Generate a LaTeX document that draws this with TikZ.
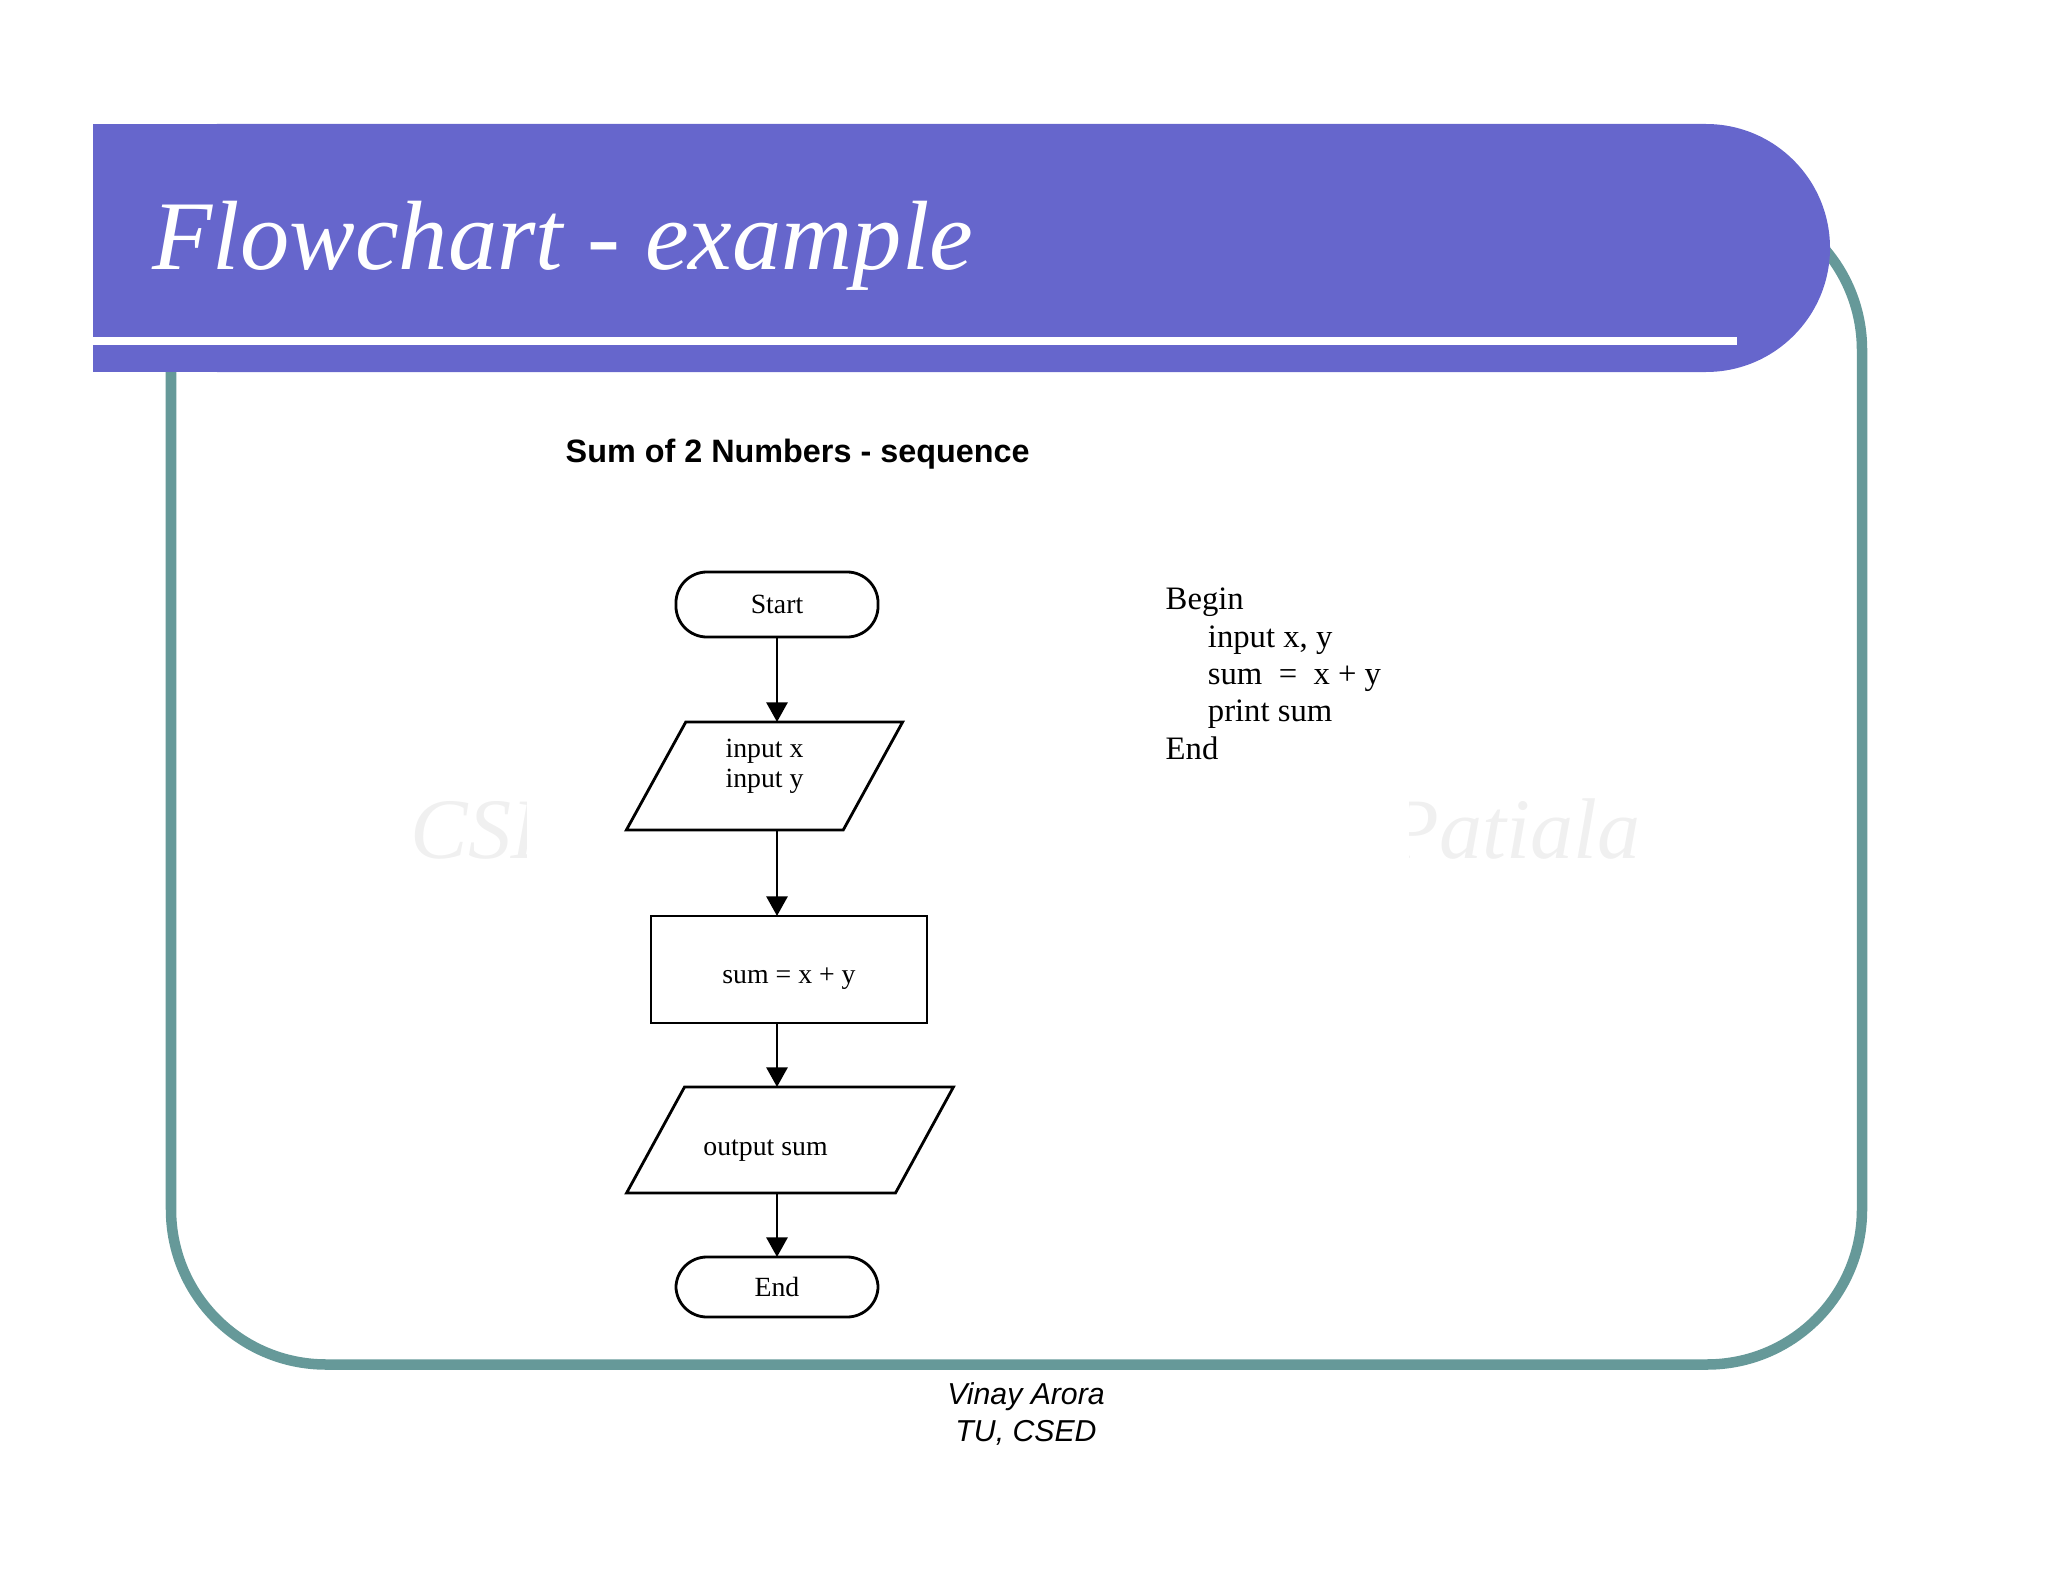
\documentclass[tikz,border=0pt]{standalone}
\usepackage{fontspec}
\setmainfont{Liberation Serif}
\setsansfont{Liberation Sans}
\usetikzlibrary{shapes.geometric,arrows.meta}
\definecolor{slideblue}{HTML}{6666CC}
\definecolor{slideteal}{HTML}{669999}
\tikzset{chartfont/.style={font=\fontsize{7.9}{8.5}\selectfont},
term/.style={draw, line width=0.8pt, rectangle, rounded corners=0.31cm,
  minimum width=2.02cm, outer sep=0pt, chartfont},
io/.style={draw, line width=0.8pt, trapezium, trapezium stretches=true,
  outer sep=0pt, align=left, chartfont},
proc/.style={draw, line width=0.8pt, rectangle, minimum width=2.76cm,
  minimum height=1.07cm, outer sep=0pt, chartfont},
flow/.style={-{Triangle[width=6pt,length=5.6pt]}, line width=0.8pt}}

\begin{document}
\begin{tikzpicture}[x=0.01cm, y=-0.01cm]
        \useasboundingbox (0,0) rectangle (2048,1582);
        % slide frame and title bar
        \draw[slideteal, line width=0.105cm, rounded corners=1.55cm] (171,195) rectangle (1862,1364.5);
        \fill[slideblue, rounded corners=1.24cm] (93,124) rectangle (1830,372);
        \fill[slideblue] (93,124) rectangle (1000,372);
        \fill[white] (93,337) rectangle (1737,345);
        \node[anchor=base west, inner sep=0, text=white, font=\fontsize{28}{32}\selectfont\itshape] (title) at (152,270) {Flowchart - example};
        
        % watermark, mostly hidden behind the chart
        \node[anchor=base west, inner sep=0, text=black!6, font=\fontsize{24.5}{30}\selectfont\itshape] (wmleft) at (410,858) {CSED};
        \node[anchor=base east, inner sep=0, text=black!6, font=\fontsize{24.5}{30}\selectfont\itshape] (wmright) at (1641,858) {Patiala};
        \fill[white] (527,420) rectangle (1409,1340);
        
        \node[anchor=base west, inner sep=0, font=\sffamily\bfseries\fontsize{9.2}{11}\selectfont] (heading) at (565,462) {Sum of 2 Numbers - sequence};
        
        % flowchart
        \node[term, minimum height=0.65cm] (start) at (777,604.5) {Start};
        \node[io, trapezium left angle=68.4, trapezium right angle=111.6, minimum width=2.77cm,
              minimum height=1.08cm, text depth=7.1pt] (in1) at (764.5,776) {input x\\input y};
        \node[proc, text height=9.4pt] (add) at (789,969.5) {sum = x + y};
        \node[io, trapezium left angle=50.5, trapezium right angle=129.5, minimum width=3.28cm,
              minimum height=1.06cm, text height=10.3pt] (out1) at (790,1140) {output sum\hspace*{0.49cm}};
        \node[term, minimum height=0.6cm] (done) at (777,1287) {End};
        
        \draw[flow] (start) -- (start |- in1.north);
        \draw[flow] (start |- in1.south) -- (start |- add.north);
        \draw[flow] (start |- add.south) -- (start |- out1.north);
        \draw[flow] (start |- out1.south) -- (done);
        
        % pseudocode (anchored on its last line)
        \node[anchor=base west, inner sep=0, align=left, font=\fontsize{9.3}{10.6}\selectfont] (code) at (1165,759)
              {Begin\\\hspace*{12pt}input x, y\\\hspace*{12pt}sum\ \ =\ \ x + y\\\hspace*{12pt}print sum\\End};
        
        \node[anchor=base, inner sep=0, align=center, font=\sffamily\itshape\fontsize{8.6}{10.5}\selectfont] (author) at (1026,1441)
              {Vinay Arora\\TU, CSED};
\end{tikzpicture}
\end{document}
